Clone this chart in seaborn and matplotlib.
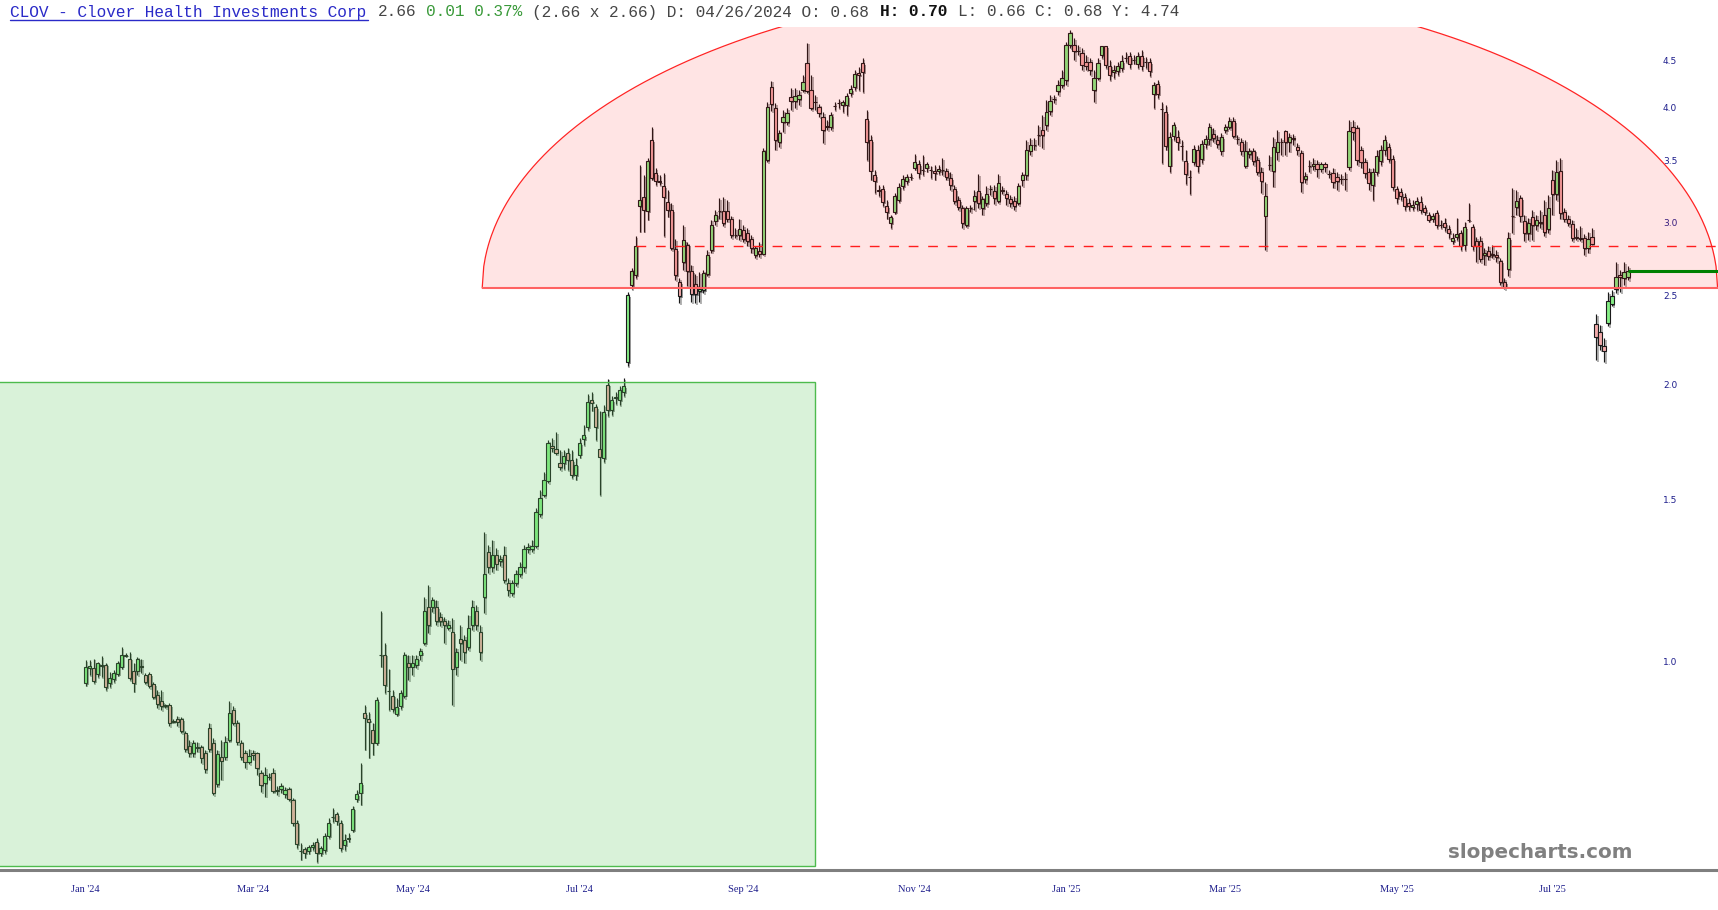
import numpy as np
import matplotlib
matplotlib.use('Agg')
import matplotlib.pyplot as plt
import matplotlib.transforms as mtransforms
from matplotlib.patches import Rectangle
from matplotlib.lines import Line2D
from matplotlib.ticker import NullLocator
import seaborn as sns

sns.set_theme(style='white')
plt.rcParams['font.family'] = ['DejaVu Sans']

# daily OHLC, Jan 2024 -> Jul 2025
opens = [
    .949, .985, .985, .970, .990, .993, .949, .958, .970, .988,
    1.018, 1.008, .978, .978, .990, .968, .970, .946, .921, .907,
    .897, .898, .863, .867, .867, .837, .810, .796, .809, .809,
    .796, .848, .817, .737, .789, .789, .823, .887, .859, .817,
    .796, .779, .796, .796, .758, .739, .751, .758, .726, .728,
    .719, .728, .708, .669, .624, .627, .624, .629, .638, .620,
    .625, .647, .679, .684, .669, .633, .644, .657, .710, .721,
    .880, .867, .844, .817, 1.017, 1.018, .930, .919, .878, .896,
    .919, .998, .988, .993, 1.018, 1.048, 1.147, 1.147, 1.147, 1.119,
    1.108, 1.089, 1.078, .988, 1.059, 1.056, 1.038, 1.097, 1.136, 1.078,
    1.176, 1.316, 1.268, 1.307, 1.287, 1.307, 1.218, 1.188, 1.218, 1.246,
    1.268, 1.326, 1.326, 1.337, 1.448, 1.518, 1.573, 1.716, 1.704, 1.645,
    1.645, 1.687, 1.657, 1.596, 1.679, 1.746, 1.800, 1.925, 1.892, 1.704,
    1.665, 2.000, 1.876, 1.935, 1.925, 1.963, 2.117, 2.567, 2.630, 3.127,
    3.198, 3.086, 3.686, 3.396, 3.329, 3.288, 3.158, 3.094, 2.807, 2.585,
    2.718, 2.839, 2.656, 2.573, 2.528, 2.535, 2.636, 2.799, 3.014, 3.086,
    3.086, 3.086, 3.030, 2.907, 2.907, 2.944, 2.922, 2.877, 2.765, 2.791,
    2.775, 3.508, 4.208, 3.994, 3.668, 3.857, 3.857, 4.106, 4.065, 4.086,
    4.178, 4.466, 4.178, 4.053, 4.004, 3.906, 3.814, 3.808, 4.014, 4.044,
    4.024, 4.024, 4.147, 4.208, 4.361, 4.470, 3.887, 3.686, 3.379, 3.252,
    3.260, 3.127, 2.997, 3.080, 3.174, 3.288, 3.329, 3.362, 3.441, 3.473,
    3.420, 3.441, 3.420, 3.412, 3.412, 3.420, 3.412, 3.354, 3.260, 3.174,
    3.110, 2.982, 3.110, 3.166, 3.244, 3.110, 3.150, 3.260, 3.244, 3.166,
    3.252, 3.221, 3.182, 3.166, 3.150, 3.338, 3.379, 3.589, 3.642, 3.733,
    3.779, 3.829, 3.964, 4.086, 4.167, 4.232, 4.285, 4.676, 4.676, 4.606,
    4.583, 4.482, 4.482, 4.178, 4.306, 4.560, 4.664, 4.439, 4.372, 4.383,
    4.416, 4.527, 4.549, 4.504, 4.461, 4.549, 4.482, 4.482, 4.137, 4.243,
    3.984, 3.955, 3.457, 3.724, 3.716, 3.633, 3.500, 3.362, 3.490, 3.598,
    3.517, 3.651, 3.696, 3.742, 3.686, 3.589, 3.779, 3.808, 3.867, 3.696,
    3.668, 3.457, 3.560, 3.589, 3.508, 3.404, 3.052, 3.465, 3.412, 3.580,
    3.668, 3.770, 3.668, 3.705, 3.624, 3.571, 3.346, 3.457, 3.457, 3.473,
    3.432, 3.473, 3.387, 3.396, 3.362, 3.346, 3.346, 3.449, 3.808, 3.799,
    3.598, 3.490, 3.404, 3.296, 3.404, 3.500, 3.598, 3.624, 3.517, 3.260,
    3.237, 3.198, 3.150, 3.119, 3.142, 3.158, 3.110, 3.060, 3.030, 3.072,
    2.982, 2.997, 2.952, 2.862, 2.892, 2.922, 2.839, 3.022, 2.967, 2.862,
    2.862, 2.765, 2.791, 2.765, 2.765, 2.725, 2.585, 2.669, 3.052, 3.119,
    3.190, 3.014, 2.922, 3.044, 2.982, 3.006, 3.060, 2.951, 3.338, 3.221,
    3.412, 3.080, 3.030, 2.990, 2.892, 2.884, 2.884, 2.815, 2.892, 2.328,
    2.283, 2.204, 2.334, 2.446, 2.541, 2.630, 2.610, 2.617,
]
highs = [
    1.005, 1.005, 1.008, 1.000, 1.015, .998, .975, .980, 1.003, 1.038,
    1.023, 1.025, .998, 1.013, 1.008, .973, .975, .951, .932, .932,
    .900, .902, .867, .874, .872, .841, .823, .823, .819, .813,
    .803, .859, .827, .803, .823, .831, .907, .896, .865, .823,
    .803, .805, .803, .798, .763, .769, .758, .767, .733, .739,
    .732, .732, .712, .674, .636, .630, .633, .638, .644, .631,
    .652, .677, .694, .688, .674, .651, .652, .698, .726, .777,
    .898, .882, .859, .916, 1.136, 1.048, .983, .932, .914, .932,
    1.025, 1.018, 1.018, 1.018, 1.036, 1.176, 1.212, 1.176, 1.168, 1.133,
    1.119, 1.111, 1.116, 1.036, 1.097, 1.070, 1.125, 1.168, 1.153, 1.097,
    1.384, 1.340, 1.357, 1.330, 1.307, 1.337, 1.234, 1.227, 1.259, 1.284,
    1.340, 1.346, 1.357, 1.469, 1.537, 1.608, 1.742, 1.751, 1.777, 1.699,
    1.699, 1.708, 1.699, 1.666, 1.751, 1.808, 1.954, 1.963, 1.906, 1.875,
    1.900, 2.030, 1.945, 1.963, 1.993, 2.034, 2.521, 2.676, 2.901, 3.463,
    3.378, 3.526, 3.808, 3.438, 3.379, 3.396, 3.253, 3.150, 2.877, 2.610,
    2.979, 2.855, 2.699, 2.636, 2.649, 2.663, 2.799, 3.022, 3.094, 3.190,
    3.198, 3.174, 3.052, 2.960, 3.030, 2.982, 2.960, 2.907, 2.832, 2.855,
    3.614, 4.055, 4.278, 4.044, 3.779, 3.974, 3.994, 4.199, 4.199, 4.178,
    4.338, 4.702, 4.338, 4.127, 4.034, 3.955, 3.876, 3.955, 4.055, 4.086,
    4.075, 4.147, 4.232, 4.394, 4.427, 4.527, 3.974, 3.733, 3.420, 3.296,
    3.296, 3.174, 3.060, 3.229, 3.312, 3.379, 3.387, 3.396, 3.560, 3.508,
    3.552, 3.490, 3.457, 3.465, 3.465, 3.526, 3.441, 3.404, 3.296, 3.206,
    3.134, 3.127, 3.134, 3.252, 3.387, 3.206, 3.288, 3.296, 3.296, 3.387,
    3.288, 3.252, 3.213, 3.206, 3.312, 3.404, 3.688, 3.705, 3.705, 3.829,
    3.925, 4.075, 4.127, 4.127, 4.285, 4.394, 4.712, 4.856, 4.760, 4.676,
    4.641, 4.560, 4.527, 4.394, 4.527, 4.664, 4.664, 4.502, 4.451, 4.482,
    4.560, 4.594, 4.594, 4.560, 4.594, 4.617, 4.538, 4.527, 4.265, 4.285,
    4.055, 4.024, 3.761, 3.857, 3.779, 3.686, 3.598, 3.424, 3.642, 3.642,
    3.686, 3.733, 3.848, 3.799, 3.733, 3.752, 3.838, 3.906, 3.906, 3.733,
    3.705, 3.686, 3.615, 3.615, 3.543, 3.449, 3.321, 3.552, 3.716, 3.779,
    3.705, 3.779, 3.752, 3.742, 3.659, 3.598, 3.404, 3.508, 3.526, 3.508,
    3.490, 3.490, 3.420, 3.441, 3.404, 3.387, 3.404, 3.876, 3.876, 3.829,
    3.633, 3.526, 3.441, 3.441, 3.598, 3.642, 3.733, 3.659, 3.552, 3.288,
    3.268, 3.229, 3.190, 3.174, 3.198, 3.206, 3.134, 3.080, 3.072, 3.094,
    3.022, 3.037, 2.982, 2.922, 3.037, 2.944, 3.006, 3.150, 2.990, 2.892,
    2.899, 2.815, 2.832, 2.839, 2.799, 2.746, 2.610, 2.931, 3.268, 3.252,
    3.213, 3.060, 3.037, 3.094, 3.060, 3.094, 3.174, 3.213, 3.424, 3.508,
    3.526, 3.110, 3.060, 3.022, 2.959, 2.974, 2.915, 2.931, 2.959, 2.386,
    2.323, 2.248, 2.522, 2.534, 2.718, 2.663, 2.718, 2.690,
]
lows = [
    .942, .968, .949, .963, .963, .932, .939, .951, .966, .983,
    1.013, .956, .928, .968, .973, .946, .937, .912, .891, .887,
    .891, .852, .859, .852, .837, .799, .789, .789, .799, .777,
    .758, .799, .717, .732, .745, .783, .819, .854, .813, .783,
    .767, .775, .783, .754, .722, .714, .745, .721, .717, .721,
    .712, .706, .664, .628, .610, .613, .619, .625, .606, .616,
    .620, .644, .670, .666, .623, .625, .638, .654, .705, .700,
    .803, .787, .793, .813, .988, .925, .887, .882, .874, .889,
    .914, .956, .968, .985, 1.005, 1.043, 1.075, 1.133, 1.097, 1.094,
    1.048, 1.083, .898, .968, 1.005, .998, 1.030, 1.083, 1.083, 1.005,
    1.130, 1.249, 1.252, 1.259, 1.271, 1.218, 1.179, 1.179, 1.209, 1.237,
    1.252, 1.313, 1.316, 1.330, 1.437, 1.511, 1.564, 1.691, 1.679, 1.616,
    1.620, 1.616, 1.584, 1.577, 1.666, 1.720, 1.786, 1.875, 1.742, 1.518,
    1.649, 1.850, 1.853, 1.906, 1.901, 1.945, 2.096, 2.541, 2.610, 2.931,
    2.931, 3.022, 3.338, 3.296, 3.296, 2.899, 3.044, 2.799, 2.597, 2.454,
    2.663, 2.561, 2.460, 2.454, 2.460, 2.515, 2.623, 2.783, 2.982, 3.030,
    2.974, 3.006, 2.885, 2.885, 2.870, 2.855, 2.832, 2.783, 2.743, 2.750,
    2.765, 3.491, 3.964, 3.598, 3.624, 3.761, 3.829, 3.974, 3.994, 4.024,
    4.157, 4.147, 3.974, 3.974, 3.906, 3.659, 3.779, 3.779, 3.974, 3.994,
    3.955, 3.925, 4.116, 4.178, 4.178, 4.157, 3.508, 3.338, 3.229, 3.206,
    3.127, 3.030, 2.960, 3.067, 3.158, 3.260, 3.304, 3.338, 3.424, 3.354,
    3.379, 3.408, 3.354, 3.338, 3.387, 3.379, 3.338, 3.252, 3.142, 3.094,
    2.960, 2.967, 3.080, 3.094, 3.110, 3.060, 3.127, 3.213, 3.142, 3.150,
    3.221, 3.134, 3.119, 3.094, 3.134, 3.288, 3.338, 3.552, 3.598, 3.642,
    3.615, 3.779, 3.925, 4.044, 4.127, 4.199, 4.232, 4.641, 4.502, 4.560,
    4.394, 4.394, 4.338, 4.055, 4.285, 4.527, 4.416, 4.285, 4.306, 4.338,
    4.383, 4.482, 4.416, 4.461, 4.416, 4.394, 4.416, 4.327, 3.994, 4.096,
    3.481, 3.598, 3.404, 3.686, 3.598, 3.508, 3.304, 3.221, 3.465, 3.404,
    3.481, 3.615, 3.642, 3.668, 3.615, 3.552, 3.752, 3.789, 3.705, 3.651,
    3.552, 3.441, 3.526, 3.465, 3.379, 3.229, 2.801, 3.420, 3.280, 3.508,
    3.552, 3.552, 3.580, 3.642, 3.552, 3.237, 3.312, 3.404, 3.420, 3.362,
    3.404, 3.404, 3.354, 3.272, 3.252, 3.304, 3.252, 3.420, 3.686, 3.465,
    3.441, 3.354, 3.252, 3.174, 3.379, 3.465, 3.552, 3.490, 3.252, 3.150,
    3.174, 3.094, 3.094, 3.094, 3.094, 3.072, 3.060, 3.006, 3.006, 2.960,
    2.960, 2.937, 2.885, 2.847, 2.870, 2.799, 2.799, 3.006, 2.799, 2.718,
    2.718, 2.699, 2.733, 2.743, 2.718, 2.567, 2.541, 2.623, 2.922, 3.060,
    3.006, 2.862, 2.870, 2.870, 2.944, 2.960, 2.899, 2.922, 3.060, 3.174,
    3.030, 3.006, 2.974, 2.862, 2.870, 2.862, 2.765, 2.783, 2.839, 2.128,
    2.182, 2.117, 2.316, 2.434, 2.515, 2.522, 2.567, 2.598,
]
closes = [
    .988, .990, .953, .998, .992, .939, .961, .973, .998, 1.018,
    1.016, .961, .949, 1.008, .988, .951, .942, .916, .900, .896,
    .895, .859, .861, .861, .841, .804, .796, .817, .807, .787,
    .765, .804, .721, .795, .781, .819, .880, .859, .819, .789,
    .779, .791, .793, .767, .735, .754, .750, .724, .725, .734,
    .726, .710, .669, .634, .623, .620, .630, .633, .620, .628,
    .647, .669, .678, .672, .628, .641, .643, .693, .719, .739,
    .869, .861, .817, .909, 1.018, .944, .929, .889, .894, .925,
    1.018, .988, .998, 1.008, 1.028, 1.136, 1.097, 1.168, 1.108, 1.108,
    1.097, 1.097, .983, 1.025, 1.048, 1.025, 1.089, 1.147, 1.097, 1.025,
    1.246, 1.268, 1.307, 1.278, 1.294, 1.227, 1.197, 1.218, 1.246, 1.268,
    1.326, 1.333, 1.337, 1.455, 1.507, 1.577, 1.729, 1.708, 1.687, 1.628,
    1.674, 1.657, 1.596, 1.637, 1.729, 1.764, 1.917, 1.912, 1.800, 1.670,
    1.868, 1.876, 1.925, 1.940, 1.973, 1.993, 2.502, 2.656, 2.832, 3.174,
    3.094, 3.500, 3.354, 3.329, 3.321, 3.198, 3.094, 2.815, 2.630, 2.496,
    2.869, 2.656, 2.508, 2.508, 2.541, 2.643, 2.765, 2.982, 3.060, 3.090,
    2.997, 3.030, 2.907, 2.910, 2.951, 2.877, 2.862, 2.815, 2.815, 2.775,
    3.587, 4.004, 4.034, 3.686, 3.753, 3.906, 3.945, 4.065, 4.116, 4.127,
    4.265, 4.167, 3.994, 4.055, 3.945, 3.779, 3.818, 3.925, 4.016, 4.046,
    4.055, 4.116, 4.189, 4.350, 4.338, 4.372, 3.668, 3.414, 3.329, 3.250,
    3.158, 3.080, 3.044, 3.206, 3.280, 3.346, 3.362, 3.366, 3.490, 3.396,
    3.424, 3.473, 3.424, 3.396, 3.432, 3.424, 3.362, 3.296, 3.166, 3.119,
    2.997, 3.110, 3.113, 3.206, 3.150, 3.182, 3.221, 3.262, 3.190, 3.312,
    3.250, 3.190, 3.150, 3.127, 3.288, 3.379, 3.598, 3.642, 3.645, 3.736,
    3.733, 3.955, 4.065, 4.088, 4.232, 4.306, 4.676, 4.819, 4.606, 4.604,
    4.451, 4.439, 4.394, 4.306, 4.470, 4.664, 4.451, 4.338, 4.394, 4.439,
    4.494, 4.525, 4.461, 4.502, 4.549, 4.439, 4.480, 4.383, 4.232, 4.137,
    3.982, 3.633, 3.716, 3.829, 3.668, 3.630, 3.387, 3.360, 3.607, 3.457,
    3.651, 3.696, 3.808, 3.705, 3.651, 3.716, 3.808, 3.867, 3.724, 3.694,
    3.589, 3.589, 3.589, 3.500, 3.404, 3.329, 3.206, 3.463, 3.624, 3.668,
    3.666, 3.668, 3.716, 3.696, 3.598, 3.321, 3.371, 3.455, 3.473, 3.432,
    3.473, 3.449, 3.385, 3.321, 3.329, 3.344, 3.344, 3.770, 3.761, 3.508,
    3.490, 3.396, 3.312, 3.404, 3.543, 3.598, 3.686, 3.517, 3.280, 3.190,
    3.206, 3.127, 3.127, 3.134, 3.166, 3.094, 3.080, 3.022, 3.052, 2.982,
    2.980, 2.967, 2.922, 2.885, 2.915, 2.832, 2.967, 3.020, 2.832, 2.832,
    2.741, 2.783, 2.757, 2.775, 2.750, 2.585, 2.554, 2.884, 3.050, 3.166,
    3.052, 2.922, 2.997, 2.982, 3.022, 2.997, 2.929, 3.110, 3.221, 3.404,
    3.072, 3.030, 2.997, 2.884, 2.890, 2.882, 2.815, 2.877, 2.847, 2.253,
    2.209, 2.177, 2.464, 2.496, 2.617, 2.617, 2.649, 2.656,
]

month_pos = [0, 42, 82, 124, 165, 208, 246, 286, 329, 368]
month_labels = ["Jan '24", "Mar '24", "May '24", "Jul '24", "Sep '24",
                "Nov '24", "Jan '25", "Mar '25", "May '25", "Jul '25"]
ytick_vals = [1.0, 1.5, 2.0, 2.5, 3.0, 3.5, 4.0, 4.5]
ytick_labels = ['1.0', '1.5', '2.0', '2.5', '3.0', '3.5', '4.0', '4.5']

# drawn annotations (bar index / price)
box_left, box_right, box_low, box_high = -30, 183.0, 0.6005, 2.012
arc_left, arc_right, arc_base, arc_top = 99.5, 409.5, 2.547, 5.46
dash_start, dash_price = 138, 2.83
last_price = 2.656

o = np.array(opens)
c = np.array(closes)
h = np.maximum(np.array(highs), np.maximum(o, c))
l = np.minimum(np.array(lows), np.minimum(o, c))
x = np.arange(len(c))
up = c >= o
body_lo = np.minimum(o, c)
body_h = np.abs(c - o)

fig = plt.figure(figsize=(17.18, 9.10), dpi=100)
ax = fig.add_axes([0, 40 / 910, 1, 843 / 910])
ax.set_yscale('log')

# shadows under the candles
shadow = mtransforms.offset_copy(ax.transData, fig=fig, x=1.6, y=-1.6, units='dots')
ax.vlines(x, l, h, colors='black', alpha=0.38, lw=1.1, transform=shadow, zorder=1)
ax.bar(x, body_h, bottom=body_lo, width=0.8, color='black', alpha=0.38, lw=0,
       transform=shadow, zorder=1)

# candles
ax.vlines(x, l, h, colors='#1a1a1a', lw=0.85, zorder=2)
ax.bar(x, body_h, bottom=body_lo, width=0.8,
       color=['#86ef86' if u else '#f3acac' for u in up],
       edgecolor='#1a1a1a', linewidth=0.8, zorder=3)

# green box
ax.add_patch(Rectangle((box_left, box_low), box_right - box_left, box_high - box_low,
                       facecolor=(0.38, 0.79, 0.38, 0.24), edgecolor='#4dbb4d',
                       lw=1.0, zorder=4))

# red half ellipse (in log space)
xs = np.linspace(arc_left, arc_right, 800)
u = (xs - (arc_left + arc_right) / 2) / ((arc_right - arc_left) / 2)
ys = arc_base * np.exp(np.log(arc_top / arc_base) * np.sqrt(np.clip(1 - u ** 2, 0, None)))
ax.fill_between(xs, arc_base, ys, facecolor=(1, 0, 0, 0.105), lw=0, zorder=4)
ax.plot(xs, ys, color='#ff2424', lw=0.9, zorder=5)
ax.hlines(arc_base, arc_left, arc_right, colors='#ff6262', lw=1.5, zorder=5)

ax.hlines(dash_price, dash_start, 415, colors='#ff1e1e', lw=1.0,
          linestyles=(0, (7, 7)), zorder=5)
ax.hlines(last_price, x[-1], 415, colors='#008000', lw=2.2, zorder=6)

ax.set_xlim(-21.5, 409.6)
ax.set_ylim(0.5945, 4.892)

ax.set_yticks(ytick_vals, labels=ytick_labels)
ax.yaxis.set_minor_locator(NullLocator())
ax.yaxis.tick_right()
ax.tick_params(axis='y', length=0, pad=-39.6, labelsize=6.5, labelcolor='#1e1e8c')

ax.set_xticks(month_pos, labels=month_labels)
ax.tick_params(axis='x', length=0, pad=11, labelsize=7.5, labelcolor='#1e1e8c')
for t in ax.get_xticklabels():
    t.set_fontfamily('Liberation Serif')

ax.grid(False)
for s in ['top', 'left', 'right']:
    ax.spines[s].set_visible(False)
ax.spines['bottom'].set_color('#7f7f7f')
ax.spines['bottom'].set_linewidth(2.2)

# header line, monospace columns
W, H = 1718, 910
adv = 9.67
ty = 1 - 12 / H
mono = 'Liberation Mono'
parts = [
    (0, 'CLOV - Clover Health Investments Corp', '#2a2ac8', 'normal'),
    (38, '2.66', '#454545', 'normal'),
    (43, '0.01 0.37%', '#3a9a3a', 'normal'),
    (54, '(2.66 x 2.66) D: 04/26/2024 O: 0.68', '#454545', 'normal'),
    (90, 'H: 0.70', '#111111', 'bold'),
    (98, 'L: 0.66 C: 0.68 Y: 4.74', '#454545', 'normal'),
]
for col, txt, colr, wt in parts:
    fig.text((10 + col * adv) / W, ty, txt, color=colr, fontsize=11.6,
             family=mono, weight=wt, ha='left', va='center')
fig.add_artist(Line2D([10 / W, (10 + 37 * adv) / W], [1 - 20 / H, 1 - 20 / H],
                      color='#2a2ac8', lw=1.0))

fig.text(1540 / W, 1 - 853 / H, 'slopecharts.com', color='#808080', fontsize=14.3,
         weight='bold', ha='center', va='center')

fig.savefig('out.png', dpi=100)
